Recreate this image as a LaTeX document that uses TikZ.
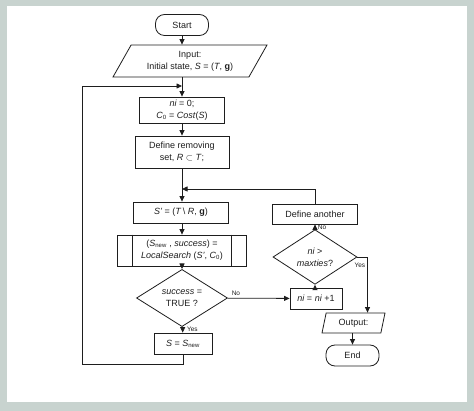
\documentclass[tikz,border=0pt]{standalone}
\usepackage{fontspec}
\setmainfont{Liberation Sans}
\usepackage{tikz}
\usetikzlibrary{arrows.meta, shapes.geometric, positioning}

\definecolor{framegray}{RGB}{200,211,207}
\definecolor{inkgray}{RGB}{30,30,30}

\begin{document}
\begin{tikzpicture}[x=1pt, y=-1pt, line width=0.8pt, draw=inkgray,
        >={Triangle[length=5.5pt, width=5pt]},
        every node/.style={font=\fontsize{9}{12}\selectfont, text=inkgray},
        box/.style={draw, rectangle, align=center, inner sep=0pt},
        term/.style={draw, rectangle, rounded corners=9pt, minimum width=53pt, minimum height=21pt, inner sep=0pt},
        io/.style={draw, trapezium, trapezium stretches body, align=center, inner sep=0pt},
        decision/.style={draw, diamond, align=center, inner sep=0pt},
        lbl/.style={font=\fontsize{6.5}{7}\selectfont, inner sep=2.5pt}]
    \fill[framegray] (0,0) rectangle (474,411);
    \fill[white] (7,6) rectangle (467,402);
    \useasboundingbox (0,0) rectangle (474,411);

    % main column
    \node[term] (start) at (182,25) {Start};
    \node[io, trapezium left angle=48, trapezium right angle=132, minimum width=154pt, minimum height=32pt]
        (input) at (190,61) {Input:\\Initial state, \textit{S} = (\textit{T}, \textbf{g})};
    \node[box, minimum width=85pt, minimum height=26pt] (ni) at (182,110)
        {\textit{ni} = 0;\\\textit{C}\textsubscript{0} = \textit{Cost}(\textit{S})};
    \node[box, minimum width=94pt, minimum height=32pt] (remove) at (182,152)
        {Define removing\\set, \textit{R} $\subset$ \textit{T};};
    \node[box, minimum width=95pt, minimum height=21pt] (sprime) at (181,212.5)
        {\textit{S’} = (\textit{T}\,\textbackslash\ \textit{R}, \textbf{g})};
    \node[box, minimum width=129pt, minimum height=31pt] (search) at (182,250.5)
        {(\textit{S}\textsubscript{new} , \textit{success}) =\\\textit{LocalSearch} (\textit{S’}, \textit{C}\textsubscript{0})};
    \node[decision, minimum width=91pt, minimum height=41pt] (success) at (182,298)
        {\textit{success} =\\TRUE ?};
    \node[box, minimum width=58pt, minimum height=21pt] (snew) at (183,343.5)
        {\textit{S} = \textit{S}\textsubscript{new}};

    % right column
    \node[box, minimum width=85pt, minimum height=20pt] (another) at (315,214) {Define another};
    \node[decision, minimum width=84pt, minimum height=44pt] (maxties) at (315,257)
        {\textit{ni} \textgreater\\\textit{maxties}?};
    \node[box, minimum width=52pt, minimum height=21pt] (inc) at (316,298.5)
        {\textit{ni} = \textit{ni} +1};
    \node[io, trapezium left angle=63, trapezium right angle=117, minimum width=63pt, minimum height=20pt]
        (output) at (353.5,323) {Output:};
    \node[term] (stop) at (352.5,355.5) {End};

    % loop corners
    \coordinate (lbot) at (82,364);
    \coordinate (ltop) at (82,86);
    \coordinate (ljoin) at (182,86);
    \coordinate (rjoin) at (182,189);

    \draw[line width=0.4pt] ([xshift=15pt]search.north west) -- ([xshift=15pt]search.south west)
        ([xshift=-16pt]search.north east) -- ([xshift=-16pt]search.south east);

    \draw
    (start) edge[->] (start |- input.north)
    (input.south -| ni) edge[->] (ni)
    (ni) edge[->] (remove)
    (remove.south) edge[->] (remove.south |- sprime.north)
    (sprime.south -| search) edge[->] (search)
    (search) edge[->] (success)
    (success) edge[->] node[lbl, right, pos=0.5, xshift=1.5pt]{Yes} (snew)
    (success) edge[->] node[lbl, above right, pos=0.02]{No} (inc)
    (inc.north -| maxties) edge[->] (maxties)
    (maxties) edge[->] node[lbl, right, pos=0.4]{No} (another)
    (output.south -| stop) edge[->] (stop);
    \draw[->] (snew) |- (lbot) -- (ltop) -- (ljoin);
    \draw[->] (another.north) |- (rjoin);
    \draw[->] (maxties.east) -| node[lbl, below, pos=0.12, yshift=-3pt]{Yes} ([xshift=14pt]output.north);
\end{tikzpicture}
\end{document}
